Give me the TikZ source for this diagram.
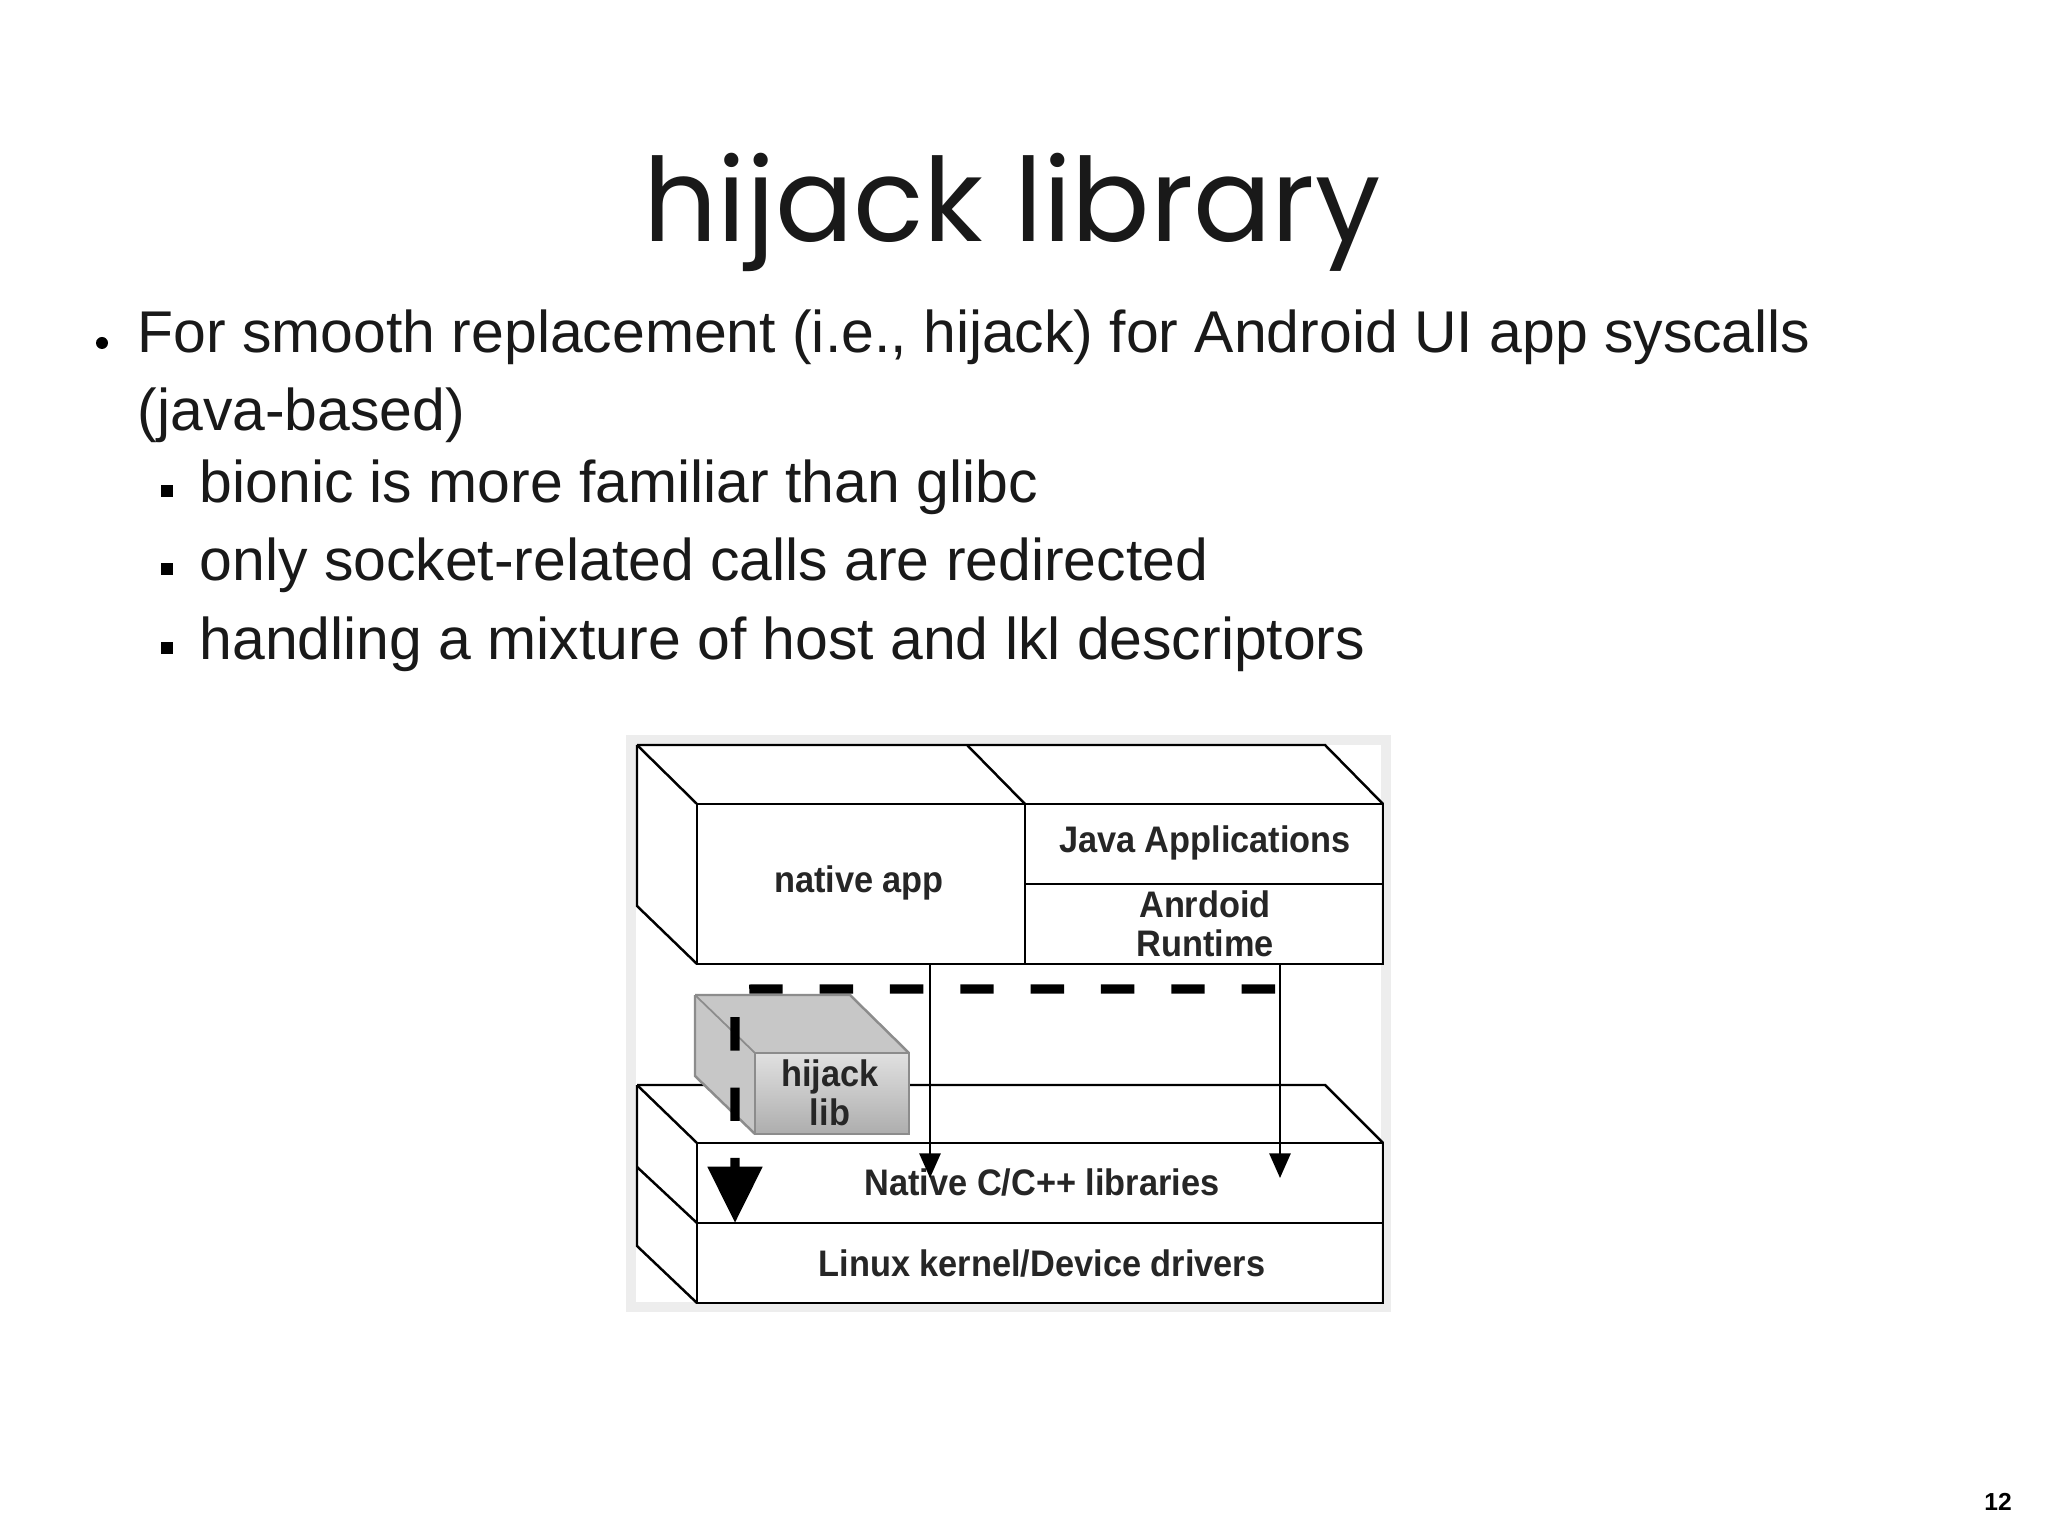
\documentclass[tikz,border=0pt]{standalone}
\usepackage{fontspec}
\setmainfont{Liberation Sans}
\newfontfamily\titlefont{Poppins}
\usetikzlibrary{arrows.meta}
\begin{document}
\begin{tikzpicture}[x=0.01cm,y=-0.01cm,
  ln/.style={line width=0.7pt,black},
  lab/.style={font=\fontsize{10.5}{12}\selectfont\bfseries,align=center,inner sep=0pt,xscale=0.93,text=black!85},
  body/.style={font=\fontsize{16.75}{19}\selectfont,anchor=base west,inner sep=0pt,text=black!90}]
\useasboundingbox[fill=white] (0,0) rectangle (2048,1537);
\node[font=\titlefont\fontsize{33}{38}\selectfont,anchor=base,inner sep=0pt,text=black!90] (title) at (1012,242) {hijack library};
\node[body] (b1) at (137,353) {For smooth replacement (i.e., hijack) for Android UI app syscalls};
\node[body] (b1b) at (137,431) {(java-based)};
\fill (102,343) circle (6);
\foreach \y/\t [count=\i] in {503/bionic is more familiar than glibc,581/only socket-related calls are redirected,660/handling a mixture of host and lkl descriptors}{
  \fill (161,\y-6) rectangle ++(12,-12);
  \node[body] (s\i) at (199,\y) {\t};}
\node[font=\fontsize{7}{8}\selectfont\bfseries,inner sep=0pt] (pg) at (1998,1502) {12};
% diagram frame
\draw[black!7,line width=3pt] (631,740) rectangle (1386,1307);
% top block
\draw[ln] (637,745) -- (1325,745) -- (1383,804);
\draw[ln] (637,745) -- (637,906) -- (697,964);
\draw[ln] (637,745) -- (697,804);
\draw[ln] (967,745) -- (1025,804);
\draw[ln] (697,804) rectangle (1383,964);
\draw[ln] (1025,804) -- (1025,964);
\draw[ln] (1025,884) -- (1383,884);
\node[lab] (na) at (859,883) {native app};
\node[lab] (ja) at (1205,843) {Java Applications};
\node[lab] (ar) at (1205,924) {Anrdoid\\[-1pt]Runtime};
% bottom block
\draw[ln] (637,1085) -- (1325,1085) -- (1383,1143);
\draw[ln] (637,1085) -- (637,1246) -- (697,1303);
\draw[ln] (637,1085) -- (697,1143);
\draw[ln] (637,1167) -- (697,1223);
\draw[ln] (697,1143) rectangle (1383,1303);
\draw[ln] (697,1223) -- (1383,1223);
\node[lab] (nc) at (1042,1182) {Native C/C++ libraries};
\node[lab] (lk) at (1042,1263) {Linux kernel/Device drivers};
% hijack lib cube
\fill[black!22] (695,995) -- (850,995) -- (909,1053) -- (909,1134) -- (755,1134) -- (695,1076) -- cycle;
\draw[black!45,line width=0.7pt] (695,995) -- (850,995) -- (909,1053);
\draw[black!45,line width=0.7pt] (695,995) -- (695,1076) -- (755,1134);
\draw[black!45,line width=0.5pt] (695,995) -- (755,1053);
\shade[top color=black!12,bottom color=black!32,draw=black!45,line width=0.7pt] (755,1053) rectangle (909,1134);
\node[lab] (hl) at (830,1093) {hijack\\[-1pt]lib};
% dashed path with arrow
\coordinate (ds) at (1275,989);
\coordinate (de) at (735,1223);
\draw[line width=2.6pt,dash pattern=on 9.5pt off 10.5pt,-{Triangle[width=15pt,length=16pt]}] (ds) -- (752,989) to[out=180,in=90] (735,1000) -- (de);
% arrows
\coordinate (a1s) at (930,964); \coordinate (a1e) at (930,1178);
\coordinate (a2s) at (1280,964); \coordinate (a2e) at (1280,1178);
\draw[ln,-{Triangle[width=6pt,length=7pt]}] (a1s) -- (a1e);
\draw[ln,-{Triangle[width=6pt,length=7pt]}] (a2s) -- (a2e);
\end{tikzpicture}
\end{document}
